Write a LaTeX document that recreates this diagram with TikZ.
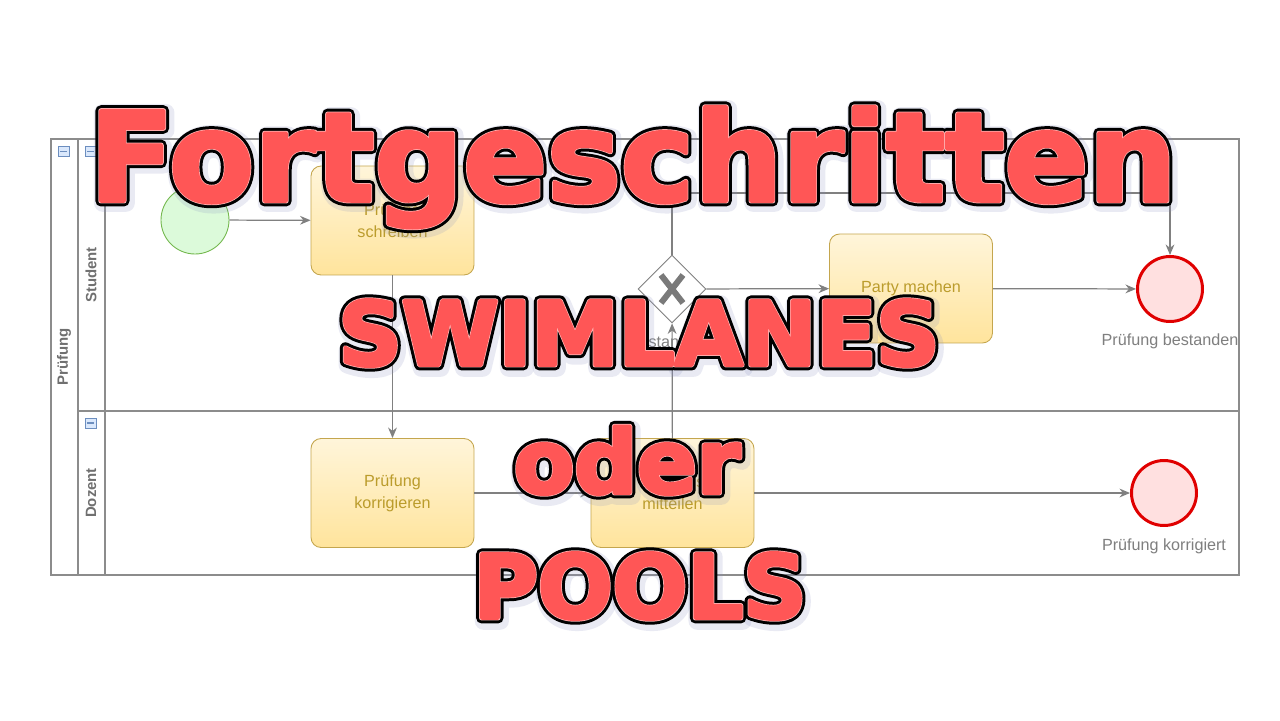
\documentclass[tikz,border=0pt]{standalone}
\usepackage{fontspec}
\usepackage{xcolor}
\usetikzlibrary{shapes.geometric,arrows.meta}
\setmainfont{Liberation Sans}
\newfontfamily\titlefont{DejaVu Sans}
\definecolor{poolline}{HTML}{8C8C8C}
\definecolor{flowline}{HTML}{808080}
\definecolor{lanetext}{HTML}{707070}
\definecolor{tasktop}{HTML}{FFF5DA}
\definecolor{taskbottom}{HTML}{FFE49C}
\definecolor{taskline}{HTML}{C4A64E}
\definecolor{tasktext}{HTML}{BB9C2C}
\definecolor{startfill}{HTML}{DCFADA}
\definecolor{startline}{HTML}{74B84E}
\definecolor{endfill}{HTML}{FFE0E0}
\definecolor{endline}{HTML}{E00000}
\definecolor{labeltext}{HTML}{7F7F7F}
\definecolor{iconfill}{HTML}{DAE8FC}
\definecolor{iconline}{HTML}{6C8EBF}
\definecolor{titlered}{HTML}{FF5656}
\definecolor{titlerim}{HTML}{FFB4B4}
\definecolor{titleshade}{HTML}{8890C0}
\newcommand{\outlined}[3]{\special{pdf:literal direct #1 Tr #2 w 1 j}#3\special{pdf:literal direct 0 Tr}}
\newcommand{\bigtitle}{\titlefont\bfseries\fontsize{70.5}{78}\selectfont}
\newcommand{\smalltitle}{\titlefont\bfseries\fontsize{50}{55}\selectfont}

\begin{document}
\begin{tikzpicture}[x=0.02cm, y=-0.02cm,
  pool/.style={draw=poolline, line width=0.75pt},
  collapse/.style={draw=iconline, fill=iconfill, line width=0.4pt, minimum width=0.22cm, minimum height=0.2cm, inner sep=0pt},
  lane/.style={rotate=90, font=\bfseries\fontsize{8.5}{10}\selectfont, text=lanetext},
  task/.style={draw=taskline, top color=tasktop, bottom color=taskbottom, rounded corners=0.2cm, minimum width=3.26cm, minimum height=2.18cm, align=center, text=tasktext, font=\fontsize{9.2}{12.5}\selectfont, line width=0.5pt},
  start/.style={circle, draw=startline, fill=startfill, minimum size=1.36cm, inner sep=0pt, line width=0.5pt},
  stopevent/.style={circle, draw=endline, fill=endfill, minimum size=1.3cm, inner sep=0pt, line width=1.7pt},
  gate/.style={diamond, draw=flowline, fill=white, minimum width=1.36cm, minimum height=1.36cm, inner sep=0pt, line width=0.5pt},
  evlabel/.style={text=labeltext, font=\fontsize{9.2}{11}\selectfont, inner sep=0pt},
  flow/.style={draw=flowline, line width=0.7pt, -{Stealth[length=6pt,width=5pt]}},
  title/.style={anchor=base, inner sep=0pt},
  titleshadow/.style={title, text=titleshade},
  titleline/.style={title, text=black},
  titlerim/.style={title, text=titlerim},
  titlefill/.style={title, text=titlered}]
\path [fill=white] (0,0) rectangle (1280,720);
\useasboundingbox (0,0) rectangle (1280,720);

\draw [pool] (51,139) rectangle (1239,575);
\draw [pool] (78,139) -- (78,575);
\draw [pool] (105,139) -- (105,575);
\draw [pool] (78,411) -- (1239,411);

\node (C1) at (63.5,151.5) [collapse] {\color{iconline}\rule{3.6pt}{0.7pt}};
\node (C2) at (90.5,151.5) [collapse] {\color{iconline}\rule{3.6pt}{0.7pt}};
\node (C3) at (90.5,423) [collapse] {\color{iconline}\rule{3.6pt}{0.7pt}};

\node (P) at (64,357) [lane] {Prüfung};
\node (LS) at (91,275) [lane] {Student};
\node (LD) at (91,493) [lane] {Dozent};

\node (S) at (195,220) [start] {};
\node (T1) at (392.5,220.5) [task] {Prüfung\\schreiben};
\node (T2) at (392.5,493) [task] {Prüfung\\korrigieren};
\node (T3) at (672.5,493) [task] {Ergebnis\\mitteilen};
\node (G) at (672,289) [gate] {};
\node (T4) at (911,288.5) [task] {Party machen};
\node (E1) at (1170,289) [stopevent] {};
\node (E2) at (1164,493) [stopevent] {};
\node (LG) at (672,342) [evlabel] {Bestanden?};
\node (L1) at (1170,341) [evlabel] {Prüfung bestanden};
\node (L2) at (1164,546) [evlabel] {Prüfung korrigiert};

\draw [line width=3.4pt, draw=flowline!95!black] (G.center) +(-11,-14) -- +(11,14);
\draw [line width=3.4pt, draw=flowline!95!black] (G.center) +(11,-14) -- +(-11,14);

\draw [flow] (S) -- (T1);
\draw [flow] (T1) -- (T2);
\draw [flow] (T2) -- (T3);
\draw [flow] (T3) -- (G);
\draw [flow] (G) -- (T4);
\draw [flow] (T4) -- (E1);
\draw [flow] (G) -- ++(0,-96) -| (E1);
\draw [flow] (T3) -- (E2);

\begin{scope}[opacity=0.18]
\node (H1) at (635,203) [titleshadow, font=\bigtitle] {\outlined{2}{10}{Fortgeschritten}};
\node (H2) at (641,368) [titleshadow, font=\smalltitle] {\outlined{2}{10}{SWIMLANES}};
\node (H3) at (629,496) [titleshadow, font=\smalltitle] {\outlined{2}{10}{oder}};
\node (H4) at (642,621) [titleshadow, font=\smalltitle] {\outlined{2}{10}{POOLS}};
\end{scope}

\node (O1) at (633,201) [titleline, font=\bigtitle] {\outlined{2}{6.2}{Fortgeschritten}};
\node (O2) at (639,365) [titleline, font=\smalltitle] {\outlined{2}{6.2}{SWIMLANES}};
\node (O3) at (627,493) [titleline, font=\smalltitle] {\outlined{2}{6.2}{oder}};
\node (O4) at (640,618) [titleline, font=\smalltitle] {\outlined{2}{6.2}{POOLS}};

\node (R1) at (633,201) [titlerim, font=\bigtitle] {\outlined{2}{2.8}{Fortgeschritten}};
\node (R2) at (639,365) [titlerim, font=\smalltitle] {\outlined{2}{2.8}{SWIMLANES}};
\node (R3) at (627,493) [titlerim, font=\smalltitle] {\outlined{2}{2.8}{oder}};
\node (R4) at (640,618) [titlerim, font=\smalltitle] {\outlined{2}{2.8}{POOLS}};

\node (F1) at (633,201) [titlefill, font=\bigtitle] {\outlined{2}{2.0}{Fortgeschritten}};
\node (F2) at (639,365) [titlefill, font=\smalltitle] {\outlined{2}{2.0}{SWIMLANES}};
\node (F3) at (627,493) [titlefill, font=\smalltitle] {\outlined{2}{2.0}{oder}};
\node (F4) at (640,618) [titlefill, font=\smalltitle] {\outlined{2}{2.0}{POOLS}};
\end{tikzpicture}
\end{document}
